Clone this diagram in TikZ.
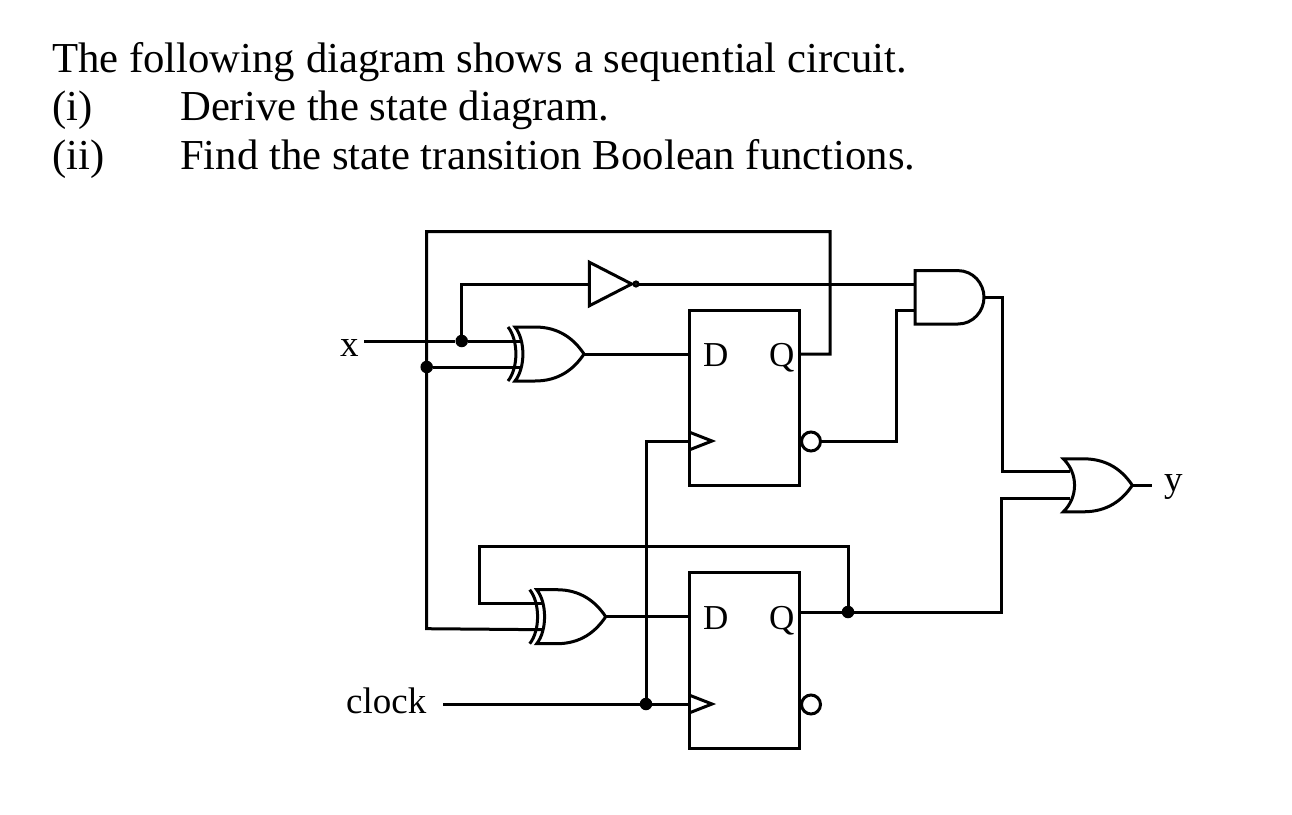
\documentclass[tikz,border=0pt]{standalone}
\usepackage{fontspec}
\setmainfont{Liberation Serif}
\usetikzlibrary{calc}
\tikzset{
	xorgate/.pic={
		\draw[gateline] (-49,-27) -- (-69,-27) .. controls (-58.5,-14) and (-58.5,14) .. (-69,27) -- (-49,27)
			.. controls (-25,27) and (-10,15) .. (0,0) .. controls (-10,-15) and (-25,-27) .. (-49,-27) -- cycle;
		\draw[gateline] (-76,-27) .. controls (-65.5,-14) and (-65.5,14) .. (-76,27);
		\coordinate (-in1) at (-63,-13);
		\coordinate (-in2) at (-63,13);
		\coordinate (-out) at (0,0);
	},
	orgate/.pic={
		\draw[gateline] (-49,-26.5) -- (-69,-26.5) .. controls (-54,-12) and (-54,12) .. (-69,26.5) -- (-49,26.5)
			.. controls (-25,26.5) and (-10,15) .. (0,0) .. controls (-10,-15) and (-25,-26.5) .. (-49,-26.5) -- cycle;
		\coordinate (-in1) at (-62,-13.5);
		\coordinate (-in2) at (-62,13.5);
		\coordinate (-out) at (0,0);
	},
	andgate/.pic={
		\draw[gateline] (43,-26.7) -- (0,-26.7) -- (0,26.7) -- (43,26.7)
			.. controls (58,26.7) and (69,14) .. (69,0) .. controls (69,-14) and (58,-26.7) .. (43,-26.7) -- cycle;
		\coordinate (-in1) at (0,-13.3);
		\coordinate (-in2) at (0,13.3);
		\coordinate (-out) at (69,0);
	},
	notgate/.pic={
		\draw[gateline] (0,-21.8) -- (42.4,0) -- (0,21.8) -- cycle;
		\coordinate (-in) at (0,0);
		\coordinate (-out) at (42.4,0);
	}
}
\begin{document}
\begin{tikzpicture}[x=1pt,y=-1pt]
	\tikzstyle{gateline}=[line width=3pt,line join=miter]
	\tikzstyle{wire}=[line width=3pt,line join=miter]
	\tikzstyle{heading}=[anchor=base west,inner sep=0pt,font=\fontsize{42.7}{50}\selectfont]
	\tikzstyle{signal}=[anchor=base west,inner sep=0pt,font=\fontsize{37}{44}\selectfont]
	\tikzstyle{port}=[anchor=base west,inner sep=0pt,font=\fontsize{35}{42}\selectfont]
	\tikzstyle{flipflop}=[rectangle,draw=black,line width=3pt,minimum width=110pt,minimum height=175.5pt,inner sep=0pt,outer sep=0pt]
	\tikzstyle{junction}=[circle,fill=black,minimum size=12.5pt,inner sep=0pt,outer sep=0pt]
	\tikzstyle{bubble}=[circle,draw=black,fill=white,line width=3pt,minimum size=19pt,inner sep=0pt,outer sep=0pt]
	\tikzstyle{smallbubble}=[circle,draw=black,fill=white,line width=3pt,minimum size=4pt,inner sep=0pt,outer sep=0pt]
	\useasboundingbox (0,0) rectangle (1292,814);
	% text
	\node[heading] (line1) at (52,72.5) {The following diagram shows a sequential circuit.};
	\node[heading] (line2a) at (52,120) {(i)};
	\node[heading] (line2b) at (180,120) {Derive the state diagram.};
	\node[heading] (line3a) at (52,169) {(ii)};
	\node[heading] (line3b) at (180,169) {Find the state transition Boolean functions.};
	% flip-flops
	\node[flipflop] (ffa) at (744,398) {};
	\node[flipflop] (ffb) at (744,660.5) {};
	\node[port] (da) at (703,366) {D};
	\node[port] (qa) at (769,366) {Q};
	\node[port] (db) at (703,629.3) {D};
	\node[port] (qb) at (769,629.3) {Q};
	\coordinate (qaout) at (799,354);
	\coordinate (qbout) at (799,612);
	\coordinate (daIn) at (689,354);
	\coordinate (dbIn) at (689,616.7);
	\coordinate (clkaIn) at (689,441);
	\coordinate (clkbIn) at (689,704);
	\draw[wire] (689,432) -- (712,441) -- (689,450);
	\draw[wire] (689,695) -- (712,704) -- (689,713);
	\node[bubble] (nqa) at (811,441.5) {};
	\node[bubble] (nqb) at (811,704.5) {};
	% gates
	\pic (xora) at (584,354) {xorgate};
	\pic (xorb) at (605.7,616.7) {xorgate};
	\pic (anda) at (915,297.3) {andgate};
	\pic (ora) at (1132.3,485.3) {orgate};
	\pic (nota) at (589.3,284) {notgate};
	\node[smallbubble] (notb) at (636,284) {};
	% signals
	\node[signal] (x) at (340,356) {x};
	\node[signal] (y) at (1164,491) {y};
	\node[signal] (clock) at (346,713.5) {clock};
	\coordinate (xend) at (364,341);
	\coordinate (clockend) at (443,704);
	\coordinate (yend) at (1152,485.3);
	\node[junction] (jx) at (461.7,341) {};
	\node[junction] (jq) at (426.7,367) {};
	\node[junction] (jclk) at (646,704) {};
	\node[junction] (jqb) at (848,612) {};
	\coordinate (topleft) at (426.7,231.7);
	\coordinate (topright) at (830,231.7);
	\coordinate (loopleft) at (479.3,546);
	\coordinate (bottomleft) at (426.7,628.7);
	% connectors
	\draw[wire] (xend) -- (jx) -- (xora-in1);
	\draw[wire] (jq) -- (xora-in2);
	\draw[wire] (jx) |- (nota-in);
	\draw[wire] (notb) -- (anda-in1);
	\draw[wire] (xora-out) -- (daIn);
	\draw[wire] (qaout) -| (topright) -- (topleft) -- (bottomleft) -- (xorb-in2);
	\draw[wire] (nqa) -| ($(anda-in2)+(-18.3,0)$) -- (anda-in2);
	\draw[wire] (anda-out) -| ($(ora-in1)+(-68,0)$) -- (ora-in1);
	\draw[wire] (qbout) -- (jqb) -- ($(qbout)+(202,0)$) |- (ora-in2);
	\draw[wire] (jqb) |- (loopleft) |- (xorb-in1);
	\draw[wire] (xorb-out) -- (dbIn);
	\draw[wire] (clockend) -- (clkbIn);
	\draw[wire] (jclk) |- (clkaIn);
	\draw[wire] (ora-out) -- (yend);
\end{tikzpicture}
\end{document}
